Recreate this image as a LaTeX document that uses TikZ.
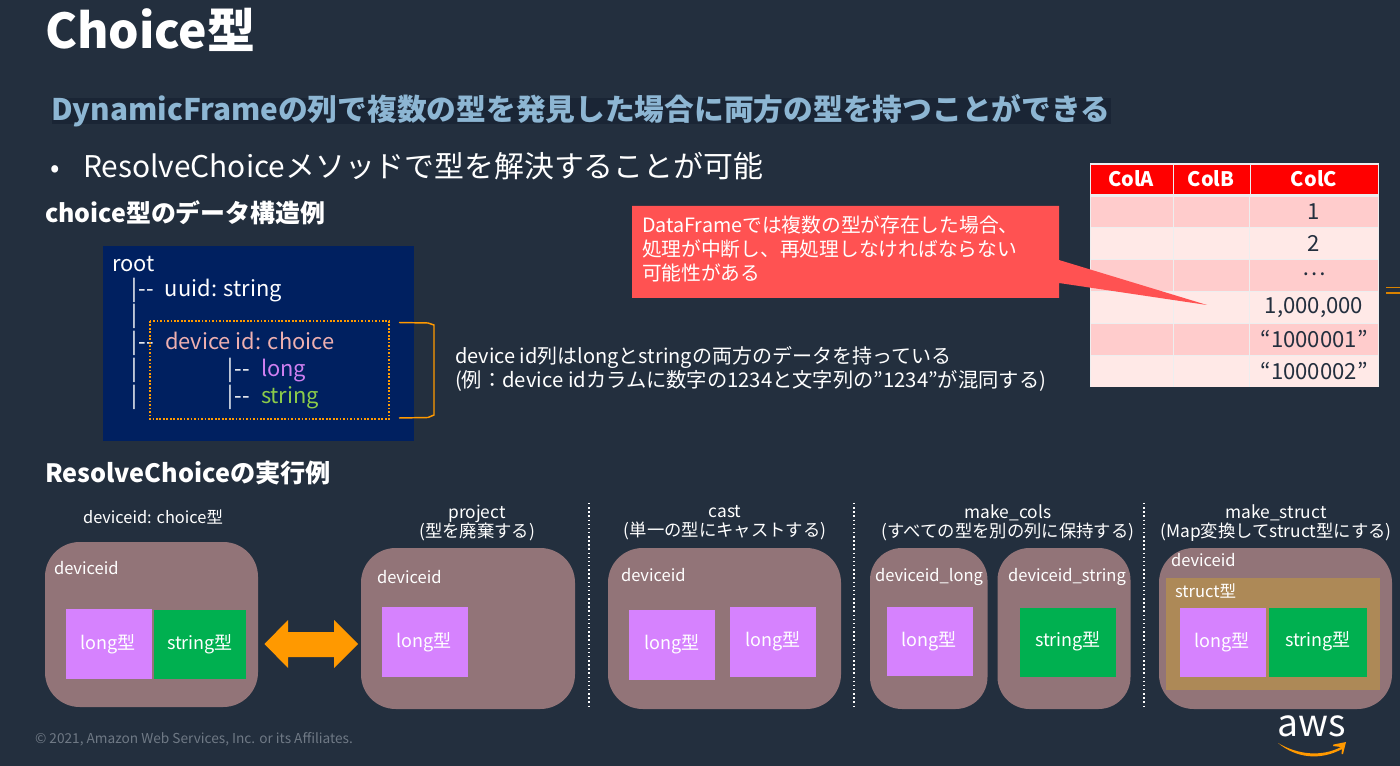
\documentclass[tikz,border=0pt]{standalone}
\usepackage{fontspec}
\setmainfont{Noto Sans CJK JP}
\usetikzlibrary{positioning,calc}
\definecolor{bgc}{HTML}{232F3E}
\definecolor{subc}{HTML}{8DB6D3}
\definecolor{hlc}{HTML}{1A2535}
\definecolor{codebg}{HTML}{002060}
\definecolor{orangec}{HTML}{FF9900}
\definecolor{mauve}{HTML}{927478}
\definecolor{purp}{HTML}{D682FE}
\definecolor{grn}{HTML}{00B050}
\definecolor{tan}{HTML}{AD8957}
\definecolor{callc}{HTML}{FF5252}
\definecolor{hdr}{HTML}{FF0000}
\definecolor{rowa}{HTML}{FFCCCC}
\definecolor{rowb}{HTML}{FFE9E7}
\definecolor{pinkt}{HTML}{EFB0B0}
\definecolor{lilac}{HTML}{CF7FF0}
\definecolor{lime}{HTML}{8BCB4A}
\definecolor{copyc}{HTML}{6F7985}
\newcommand{\fs}[1]{\fontsize{#1}{#1}\selectfont}
\newcommand{\bd}{\makebox[25.5pt][l]{|\kern1.2pt-{}-}}
\tikzset{
  x=0.75pt,y=-0.75pt,
  txt/.style={inner sep=0pt,outer sep=0pt,text=white,anchor=base west},
  ctxt/.style={inner sep=0pt,outer sep=0pt,text=white,align=center,anchor=center},
  boxlab/.style={ctxt,font=\fs{13.5}},
  collab/.style={txt,font=\fs{12.4}},
  headlab/.style={ctxt,font=\fontsize{13}{14.25}\selectfont},
  sep/.style={draw=white,line width=1.1pt,dash pattern=on 1.1pt off 2pt},
  codetxt/.style={txt,font=\fs{16.4}},
  hdrtxt/.style={ctxt,font=\fs{15}\bfseries},
  celltxt/.style={ctxt,text=bgc,font=\fs{16.6}},
}
\begin{document}
\begin{tikzpicture}
\useasboundingbox (0,0) rectangle (1400,766);
\fill[bgc] (0,0) rectangle (1400,766);
% title block
\node[txt,font=\fs{36}\bfseries] (title) at (45,48.5) {Choice型};
\fill[hlc] (52,98) rectangle (1111,124);
\node[txt,text=subc,font=\fs{22.3}\bfseries] (subtitle) at (51,121) {DynamicFrameの列で複数の型を発見した場合に両方の型を持つことができる};
\node[txt,font=\fs{20.8}] (bullet) at (50,178) {•};
\node[txt,font=\fs{22.4}] (method) at (83,178) {ResolveChoiceメソッドで型を解決することが可能};
\node[txt,font=\fs{18.7}\bfseries] (structhead) at (45,223) {choice型のデータ構造例};
% code block
\fill[codebg] (103,246) rectangle (414,441);
\node[codetxt] (c1) at (112,272) {root};
\node[codetxt] (c2) at (131,297) {\bd uuid: string};
\node[codetxt] (c3) at (131,323) {|};
\node[codetxt] (c4) at (131,350) {\bd\textcolor{pinkt}{device id: choice}};
\node[codetxt] (c5) at (131,377) {|};
\node[codetxt] (c5b) at (227,377) {\bd\textcolor{lilac}{long}};
\node[codetxt] (c6) at (131,404) {|};
\node[codetxt] (c6b) at (227,404) {\bd\textcolor{lime}{string}};
\draw[orangec,line width=1pt,dash pattern=on 1.3pt off 1.3pt] (150,321) rectangle (389,419);
\coordinate (bt) at (399,322.5); \coordinate (bb) at (399,418);
\draw[orangec,line width=1.1pt] (bt) -- (428,323) -- (434,325) -- (434,415) -- (428,417.5) -- (bb);
\node[txt,font=\fs{15}] (note1) at (455,364) {device id列はlongとstringの両方のデータを持っている};
\node[txt,font=\fs{15.2}] (note2) at (455,388) {(例：device idカラムに数字の1234と文字列の”1234”が混同する)};
% table
\fill[white!92!bgc] (1089.5,163.5) rectangle (1379,387.5);
\foreach \a/\b/\c in {1091/1172.5/hdr,1174/1249.5/hdr,1251/1377.5/hdr}{\fill[\c] (\a,165) rectangle (\b,194);}
\foreach \ya/\yb/\c in {197/227/rowa,228/259/rowb,260/291/rowa,292/323/rowb,324/355/rowa,356/387/rowb}{
  \foreach \a/\b in {1090.5/1173,1173.8/1249.3,1250/1378}{\fill[\c] (\a,\ya) rectangle (\b,\yb);}
}
\node[hdrtxt] (ha) at (1131,179) {ColA};
\node[hdrtxt] (hb) at (1211,179) {ColB};
\node[hdrtxt] (hc) at (1314,179) {ColC};
\node[celltxt] (r1) at (1314,212) {1};
\node[celltxt] (r2) at (1314,243) {2};
\node[celltxt] (r3) at (1314,274) {…};
\node[celltxt] (r4) at (1314,308) {1,000,000};
\node[celltxt] (r5) at (1314,339) {“1000001”};
\node[celltxt] (r6) at (1314,371) {“1000002”};
\draw[orangec!85!black,line width=1.3pt] (1386,287.5) -- (1400,287.5) (1386,293) -- (1400,293);
% callout
\fill[callc] (632,206) -- (1059,206) -- (1059,260) -- (1207,305) -- (1059,283) -- (1059,298) -- (632,298) -- cycle;
\node[txt,font=\fs{14.8}] (call1) at (642,233) {DataFrameでは複数の型が存在した場合、};
\node[txt,font=\fs{14.8}] (call2) at (642,257) {処理が中断し、再処理しなければならない};
\node[txt,font=\fs{14.8}] (call3) at (642,281) {可能性がある};
% lower section
\node[txt,font=\fs{18.9}\bfseries] (exhead) at (45,483) {ResolveChoiceの実行例};
\draw[sep] (589,503) -- (589,708);
\draw[sep] (854,503) -- (854,708);
\draw[sep] (1144,503) -- (1144,708);
\node[headlab,font=\fs{12.3}] (h1) at (153,517) {deviceid: choice型};
\node[headlab] (h2) at (477,523) {project\\(型を廃棄する)};
\node[headlab] (h3) at (725,523) {cast\\(単一の型にキャストする)};
\node[headlab] (h4) at (1008,523) {make\_cols\\(すべての型を別の列に保持する)};
\node[headlab] (h5) at (1276,523) {make\_struct\\(Map変換してstruct型にする)};
% group 1
\fill[mauve,rounded corners=26pt] (45,542) rectangle (258,707);
\node[collab] (d1) at (54,575) {deviceid};
\fill[purp] (65.5,609) rectangle (151.5,679);
\fill[grn] (153.5,610) rectangle (246,679);
\node[boxlab] (l1) at (108,644) {long型};
\node[boxlab] (s1) at (200,644) {string型};
\fill[orangec] (264.5,644) -- (288,620) -- (288,632) -- (334,632) -- (334,620) -- (358,644) -- (334,668) -- (334,657) -- (288,657) -- (288,668) -- cycle;
% group 2
\fill[mauve,rounded corners=26pt] (361,548) rectangle (575,709);
\node[collab] (d2) at (377,583) {deviceid};
\fill[purp] (381.5,607) rectangle (468,677);
\node[boxlab] (l2) at (424,642) {long型};
% group 3
\fill[mauve,rounded corners=26pt] (608,548) rectangle (841,709);
\node[collab] (d3) at (621,581) {deviceid};
\fill[purp] (629,610) rectangle (715,680);
\fill[purp] (730,607) rectangle (816,677);
\node[boxlab] (l3) at (672,644) {long型};
\node[boxlab] (l4) at (773,641) {long型};
% group 4
\fill[mauve,rounded corners=24pt] (870,548) rectangle (987.5,709);
\node[collab] (d4) at (875,581) {deviceid\_long};
\fill[purp] (887,607) rectangle (973,676);
\node[boxlab] (l5) at (929,641) {long型};
\fill[mauve,rounded corners=24pt] (997.5,548) rectangle (1130.5,709);
\node[collab] (d5) at (1008,581) {deviceid\_string};
\fill[grn] (1020,607.5) rectangle (1116,677);
\node[boxlab] (s5) at (1068,641) {string型};
% group 5
\fill[mauve,rounded corners=26pt] (1159,548) rectangle (1392,709);
\node[collab] (d6) at (1171,566) {deviceid};
\fill[tan] (1166,578) rectangle (1380,690);
\node[collab] (st) at (1175,597) {struct型};
\fill[purp] (1180,608) rectangle (1266,677);
\fill[grn] (1269,607.5) rectangle (1367,677);
\node[boxlab] (l6) at (1222,642) {long型};
\node[boxlab] (s6) at (1318,641) {string型};
% footer
\node[txt,text=copyc,font=\fs{10.25}] (copy) at (35,743) {© 2021, Amazon Web Services, Inc. or its Affiliates.};
\node[ctxt,font=\fs{28}] (aws) at (1312,726) {aws};
\fill[orangec] (1278,743) .. controls (1298,755) and (1322,757) .. (1341,747) -- (1333,746) -- (1333.5,744.5) -- (1346,742) -- (1343,754) -- (1341.5,754) -- (1342,749) .. controls (1320,761) and (1296,758) .. (1278,743) -- cycle;
\end{tikzpicture}
\end{document}
